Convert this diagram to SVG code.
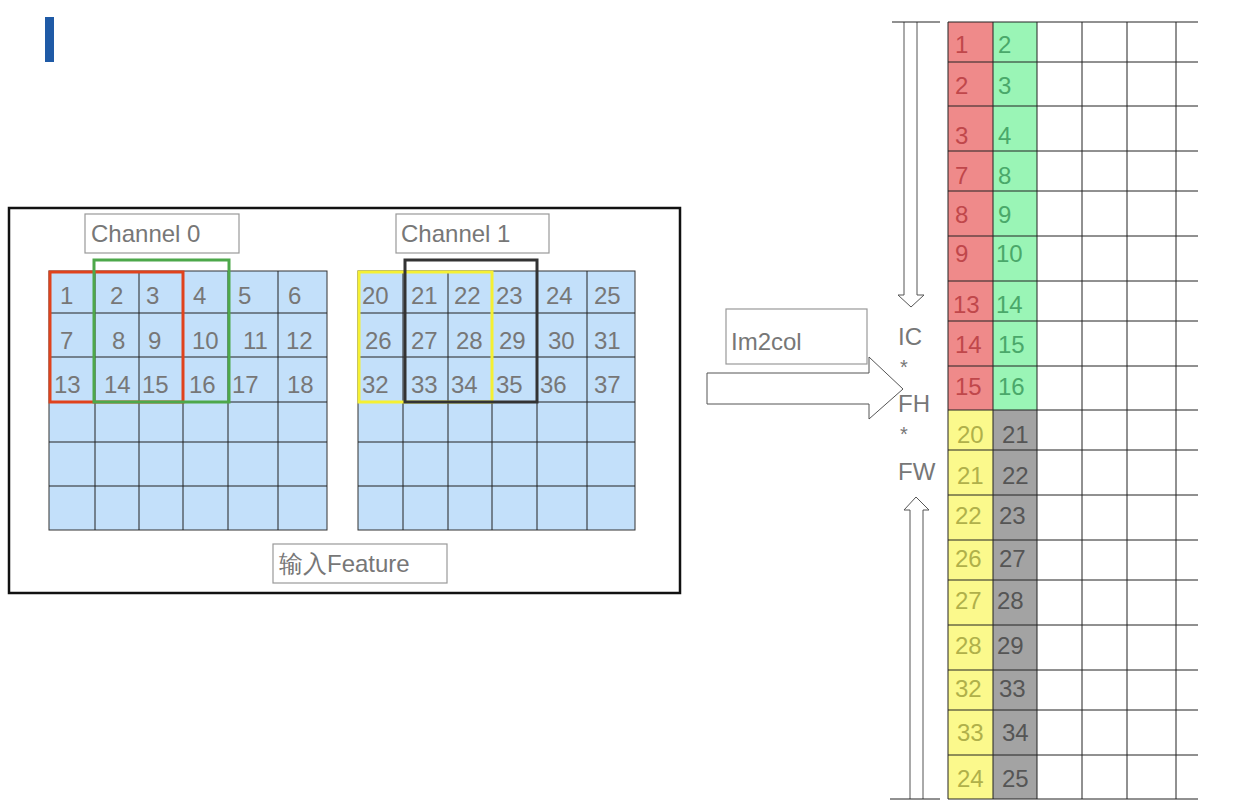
<svg xmlns="http://www.w3.org/2000/svg" width="1240" height="804" viewBox="0 0 1240 804">
<style>
.t{font-family:"Liberation Sans",Arial,sans-serif;fill:#777;font-size:24px}
.lb{fill:#fff;stroke:#999;stroke-width:1.2}
.g{fill:#c3e0fa;stroke:#333;stroke-width:1}
.ln{stroke:#222;stroke-width:1;fill:none}
</style>
<rect width="1240" height="804" fill="#fff"/>
<rect x="45" y="17" width="9" height="45" fill="#1f5aa6"/>
<g id="feature">
<rect x="9" y="208" width="671" height="385" fill="#fff" stroke="#111" stroke-width="2.5"/>
<g id="ch0">
<rect class="g" x="49" y="271" width="278" height="259"/>
<path class="ln" d="M95 271V530M139 271V530M183 271V530M228 271V530M278 271V530M49 313H327M49 357H327M49 402H327M49 442H327M49 486H327"/>
<g class="t" font-size="24">
<text x="60" y="304">1</text><text x="110" y="304">2</text><text x="146" y="304">3</text><text x="193" y="304">4</text><text x="238" y="304">5</text><text x="288" y="304">6</text>
<text x="60" y="349">7</text><text x="112" y="349">8</text><text x="148" y="349">9</text><text x="192" y="349">10</text><text x="243" y="349">11</text><text x="286" y="349">12</text>
<text x="54" y="393">13</text><text x="104" y="393">14</text><text x="142" y="393">15</text><text x="189" y="393">16</text><text x="232" y="393">17</text><text x="287" y="393">18</text>
</g>
<rect x="50" y="272" width="133" height="130" fill="none" stroke="#e0421c" stroke-width="3"/>
<rect x="94" y="260" width="135" height="142" fill="none" stroke="#4da84a" stroke-width="3"/>
</g>
<g id="ch1">
<rect class="g" x="358" y="271" width="277" height="259"/>
<path class="ln" d="M403 271V530M448 271V530M492 271V530M537 271V530M587 271V530M358 313H635M358 357H635M358 402H635M358 442H635M358 486H635"/>
<g class="t">
<text x="362" y="304">20</text><text x="411" y="304">21</text><text x="454" y="304">22</text><text x="496" y="304">23</text><text x="546" y="304">24</text><text x="594" y="304">25</text>
<text x="365" y="349">26</text><text x="411" y="349">27</text><text x="456" y="349">28</text><text x="499" y="349">29</text><text x="548" y="349">30</text><text x="594" y="349">31</text>
<text x="362" y="393">32</text><text x="411" y="393">33</text><text x="451" y="393">34</text><text x="496" y="393">35</text><text x="540" y="393">36</text><text x="594" y="393">37</text>
</g>
<rect x="359" y="272" width="133" height="130" fill="none" stroke="#f5f032" stroke-width="3"/>
<rect x="405" y="260" width="132" height="142" fill="none" stroke="#333" stroke-width="3"/>
</g>
<g id="lbl-ch0"><rect class="lb" x="85" y="214" width="154" height="39"/><text class="t" x="91" y="242">Channel 0</text></g>
<g id="lbl-ch1"><rect class="lb" x="396" y="214" width="153" height="39"/><text class="t" x="401" y="242">Channel 1</text></g>
<g id="lbl-feat"><rect class="lb" x="273" y="544" width="174" height="39"/><text class="t" x="279" y="572" font-family="'Liberation Sans','Noto Sans CJK SC',sans-serif">输入Feature</text></g>
</g>
<g id="connectors" fill="#fff" stroke="#555" stroke-width="1">
<path d="M707 373H869V357L903 389L869 419V404H707Z"/>
<path d="M904 22V295H898L911 307L924 295H917V22"/>
<path d="M910 799V510H904L916 497L929 510H923V799"/>
<path d="M892 22H940M890 799H940" stroke="#222"/>
</g>
<g id="im2col"><rect class="lb" x="726" y="309" width="141" height="55"/><text class="t" x="731" y="350" font-size="36">Im2col</text></g>
<g id="dims" class="t" font-size="26">
<text x="898" y="345">IC</text><text x="900" y="374" font-size="20">*</text><text x="898" y="412">FH</text><text x="900" y="441" font-size="20">*</text><text x="898" y="480">FW</text>
</g>
<g id="matrix">
<rect x="948" y="22" width="45" height="388" fill="#ef8a8a"/>
<rect x="993" y="22" width="44" height="388" fill="#9af5b6"/>
<rect x="948" y="410" width="45" height="389" fill="#fbf98c"/>
<rect x="993" y="410" width="44" height="389" fill="#a3a3a3"/>
<path class="ln" d="M948 22V799M993 22V799M1037 22V799M1082 22V799M1127 22V799M1176 22V799M948 22H1198M948 62H1198M948 106H1198M948 151H1198M948 191H1198M948 236H1198M948 281H1198M948 321H1198M948 366H1198M948 410H1198M948 450H1198M948 495H1198M948 540H1198M948 580H1198M948 625H1198M948 670H1198M948 710H1198M948 755H1198M948 799H1198"/>
<g font-family="'Liberation Sans',Arial,sans-serif" font-size="24">
<g fill="#c0474b">
<text x="955" y="53">1</text><text x="955" y="94">2</text><text x="955" y="144">3</text><text x="955" y="184">7</text><text x="955" y="223">8</text><text x="955" y="262">9</text><text x="953" y="313">13</text><text x="955" y="353">14</text><text x="955" y="395">15</text>
</g>
<g fill="#4aa86a">
<text x="998" y="53">2</text><text x="998" y="94">3</text><text x="998" y="144">4</text><text x="998" y="184">8</text><text x="998" y="223">9</text><text x="996" y="262">10</text><text x="996" y="313">14</text><text x="998" y="353">15</text><text x="998" y="395">16</text>
</g>
<g fill="#b0b04a">
<text x="957" y="443">20</text><text x="957" y="484">21</text><text x="955" y="524">22</text><text x="955" y="567">26</text><text x="955" y="609">27</text><text x="955" y="654">28</text><text x="955" y="697">32</text><text x="957" y="741">33</text><text x="957" y="787">24</text>
</g>
<g fill="#555">
<text x="1002" y="443">21</text><text x="1002" y="484">22</text><text x="999" y="524">23</text><text x="999" y="567">27</text><text x="997" y="609">28</text><text x="997" y="654">29</text><text x="999" y="697">33</text><text x="1002" y="741">34</text><text x="1002" y="787">25</text>
</g>
</g>
</g>
</svg>
